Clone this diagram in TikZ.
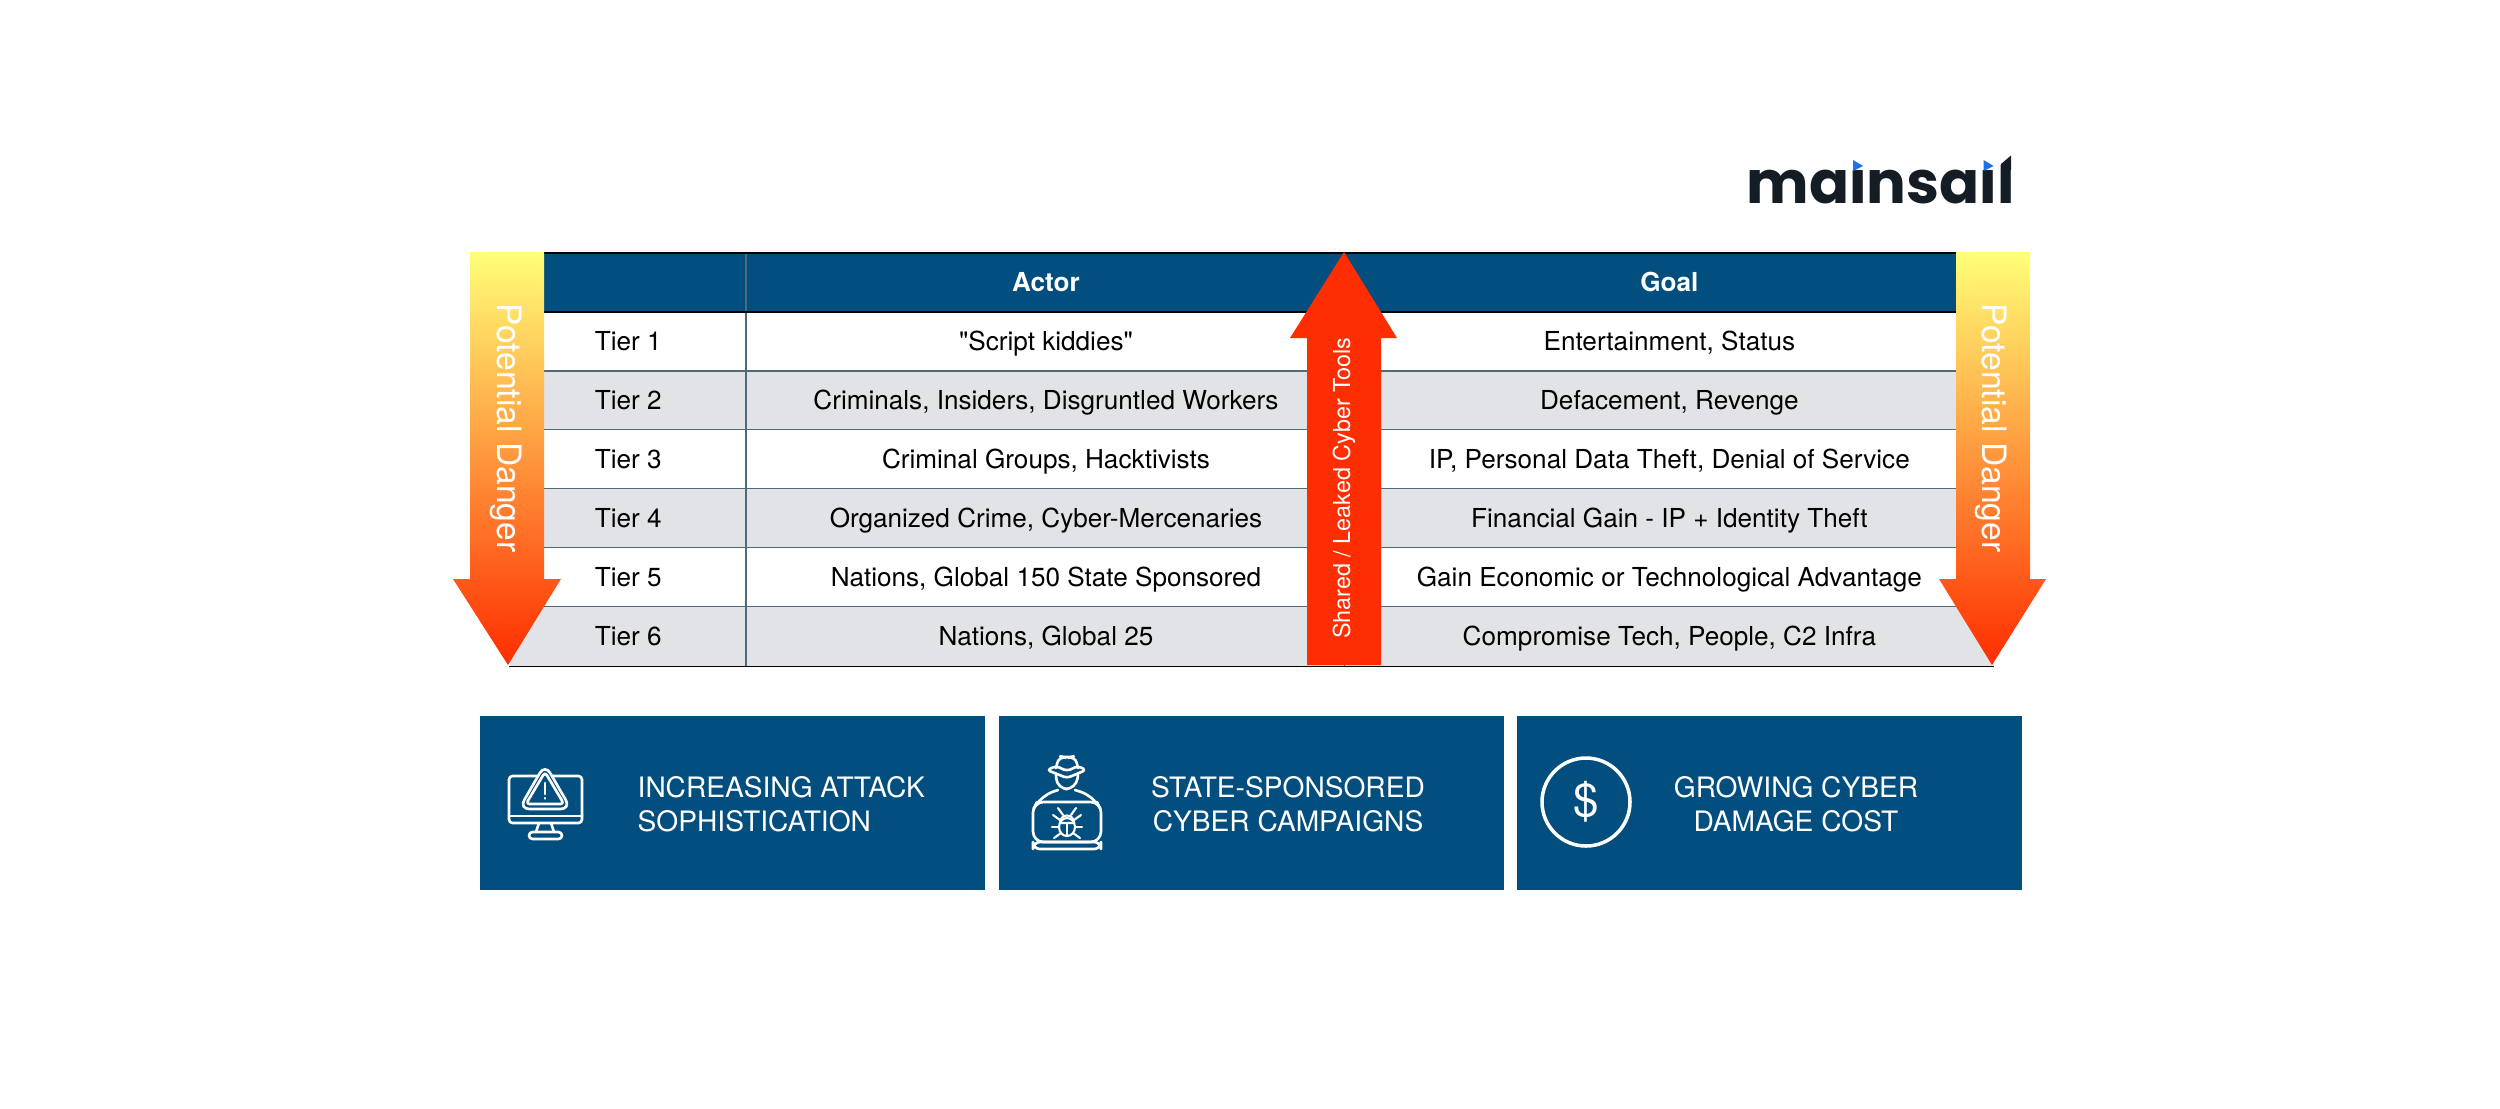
\documentclass[tikz,border=0pt]{standalone}
\usepackage{fontspec}
\setmainfont{TeX Gyre Heros}
\newfontfamily\quotefont{TeX Gyre Heros}
\newfontfamily\logofont{Poppins}
\usepackage{xcolor}
\usetikzlibrary{matrix}
\definecolor{headblue}{HTML}{024E7F}
\definecolor{rowgrey}{HTML}{E2E3E7}
\definecolor{gridgrey}{HTML}{4F6A7A}
\definecolor{hotred}{HTML}{FF2D00}
\definecolor{warmyellow}{HTML}{FFFF78}
\definecolor{logoink}{HTML}{141D25}
\definecolor{logoblue}{HTML}{1A73E8}
\tikzset{
	cell/.style={inner sep=0pt,minimum height=0.5886cm,text height=0.22cm,text depth=0.05cm,font=\fontsize{7.43}{8.8}\selectfont,text=black},
	headcell/.style={fill=headblue,text=white,font=\fontsize{7.43}{8.8}\selectfont\bfseries},
	greycell/.style={fill=rowgrey},
	tealbox/.style={fill=headblue,inner sep=0pt,minimum width=5.05cm,minimum height=1.74cm,anchor=north west},
	boxtext/.style={text=white,inner sep=0pt,font=\fontsize{8}{9.6}\selectfont},
	dangertext/.style={text=white,inner sep=0pt,rotate=-90,font=\fontsize{9.55}{11}\selectfont},
	iconline/.style={draw=white,line width=0.75pt,line join=round,line cap=round},
	bugline/.style={draw=white,line width=0.6pt,line join=round,line cap=round},
}
\begin{document}
\begin{tikzpicture}[x=0.01cm,y=-0.01cm]
	\useasboundingbox (0,0) rectangle (2500,1108);
	% the table
	\matrix (tbl) [matrix of nodes,nodes in empty cells,anchor=north west,inner sep=0pt,row sep=0pt,column sep=0pt,
		nodes={cell},
		column 1/.style={nodes={minimum width=2.37cm}},
		column 2/.style={nodes={minimum width=5.98cm}},
		column 3/.style={nodes={minimum width=6.48cm}},
		row 1/.style={nodes={headcell}},
		row 3/.style={nodes={greycell}},
		row 5/.style={nodes={greycell}},
		row 7/.style={nodes={greycell}}] at (509,253) {
		       & Actor                                    & Goal \\
		Tier 1 & {\quotefont "Script kiddies"}            & Entertainment, Status \\
		Tier 2 & Criminals, Insiders, Disgruntled Workers & Defacement, Revenge \\
		Tier 3 & Criminal Groups, Hacktivists             & IP, Personal Data Theft, Denial of Service \\
		Tier 4 & Organized Crime, Cyber-Mercenaries       & Financial Gain - IP + Identity Theft \\
		Tier 5 & Nations, Global 150 State Sponsored      & Gain Economic or Technological Advantage \\
		Tier 6 & Nations, Global 25                       & Compromise Tech, People, C2 Infra \\
	};
	\foreach \r in {3,...,7}
		\draw[gridgrey,line width=0.4pt] (tbl-\r-1.north west) -- (tbl-\r-3.north east);
	\draw[gridgrey,line width=0.4pt] (tbl-1-2.north west) -- (tbl-7-2.south west);
	\draw[gridgrey,line width=0.4pt] (tbl-1-3.north west) -- (tbl-7-3.south west);
	\draw[black,line width=0.35pt] (tbl-1-1.north west) -- (tbl-1-3.north east);
	\draw[black,line width=0.35pt] (tbl-2-1.north west) -- (tbl-2-3.north east);
	\draw[black,line width=0.35pt] (tbl-7-1.south west) -- (tbl-7-3.south east);
	% the three arrows
	\shade[top color=warmyellow,bottom color=hotred] (470,252) -- (544,252) -- (544,579) -- (561,579) -- (508,665) -- (453,579) -- (470,579) -- cycle;
	\shade[top color=warmyellow,bottom color=hotred] (1956,252) -- (2030,252) -- (2030,579) -- (2046,579) -- (1992,665) -- (1939,579) -- (1956,579) -- cycle;
	\fill[hotred] (1307,665) -- (1381,665) -- (1381,338) -- (1397,338) -- (1344,252) -- (1290,338) -- (1307,338) -- cycle;
	\node[dangertext] (dangerL) at (506,428) {Potential Danger};
	\node[dangertext] (dangerR) at (1991,428) {Potential Danger};
	\node[text=white,inner sep=0pt,rotate=90,font=\fontsize{6.65}{8}\selectfont] (shared) at (1344,488) {Shared / Leaked Cyber Tools};
	% the logo
	\node[inner sep=0pt,anchor=base west,text=logoink,font=\fontsize{16.8}{20}\logofont\bfseries] (logo) at (1746,203) {mainsail};
	\fill[white] (1851,150) rectangle (1866,169);
	\fill[white] (1981,150) rectangle (1996.5,169);
	\fill[white] (2000,150) -- (2013,150) -- (2013,155) -- (2000,165) -- cycle;
	\fill[logoink] (2001,170) -- (2001,164) -- (2011,155.5) -- (2011,170) -- cycle;
	\fill[logoblue] (1853,160) -- (1863,166) -- (1853,171) -- cycle;
	\fill[logoblue] (1983.5,160) -- (1993.5,166) -- (1983.5,171) -- cycle;
	% the three boxes
	\node[tealbox] (boxA) at (479,715) {};
	\node[tealbox] (boxB) at (998,715) {};
	\node[tealbox] (boxC) at (1516,715) {};
	\node[boxtext,align=left,anchor=west] (textA) at (637,804) {INCREASING ATTACK\\SOPHISTICATION};
	\node[boxtext,align=center] (textB) at (1288,804) {STATE-SPONSORED\\CYBER CAMPAIGNS};
	\node[boxtext,align=center] (textC) at (1796,804) {GROWING CYBER\\DAMAGE COST};
	% monitor icon
	\draw[iconline,rounded corners=1pt] (509,776) rectangle (582,823);
	\draw[iconline] (509,816) -- (582,816);
	\draw[iconline] (539,823) -- (536,832) (551,823) -- (554,832);
	\draw[iconline,rounded corners=1pt] (529,832) rectangle (562,839);
	\draw[iconline,fill=headblue,rounded corners=3pt] (545,764) -- (571,809) -- (519,809) -- cycle;
	\draw[iconline,rounded corners=1pt] (545,772) -- (564,804) -- (526,804) -- cycle;
	\draw[iconline] (545,783) -- (545,794) (545,798) -- (545,798.5);
	% hacker icon
	\draw[iconline,rounded corners=2pt] (1056,768) -- (1059,756) -- (1067,758) -- (1075,756) -- (1078,768);
	\draw[iconline,rounded corners=1pt] (1047,770) -- (1056,766) -- (1067,771) -- (1078,766) -- (1086,770) -- (1067,778) -- cycle;
	\draw[iconline,rounded corners=3pt] (1056,775) -- (1057,789) -- (1076,789) -- (1078,775);
	\draw[iconline,rounded corners=4pt] (1037,802) -- (1040,796) -- (1058,790);
	\draw[iconline,rounded corners=4pt] (1097,802) -- (1094,796) -- (1075,790);
	\draw[iconline,rounded corners=3pt] (1033,802) rectangle (1101,842);
	\draw[iconline,rounded corners=2pt] (1033,842) rectangle (1101,849);
	\draw[bugline] (1067,827) ellipse [x radius=8,y radius=9];
	\draw[bugline] (1060,823) .. controls (1060,813) and (1074,813) .. (1074,823) -- cycle;
	\draw[bugline] (1067,823) -- (1067,836);
	\draw[bugline] (1063,815) -- (1058,808) (1071,815) -- (1076,808);
	\draw[bugline] (1060,820) -- (1053,815) (1074,820) -- (1081,815);
	\draw[bugline] (1059,827) -- (1052,827) (1075,827) -- (1082,827);
	\draw[bugline] (1061,833) -- (1054,838) (1073,833) -- (1080,838);
	% dollar icon
	\draw[draw=white,line width=1pt] (1586,802) circle [radius=44];
	\node[inner sep=0pt,text=white,font=\fontsize{13}{15}\selectfont] (dollar) at (1586,802) {\$};
\end{tikzpicture}
\end{document}
